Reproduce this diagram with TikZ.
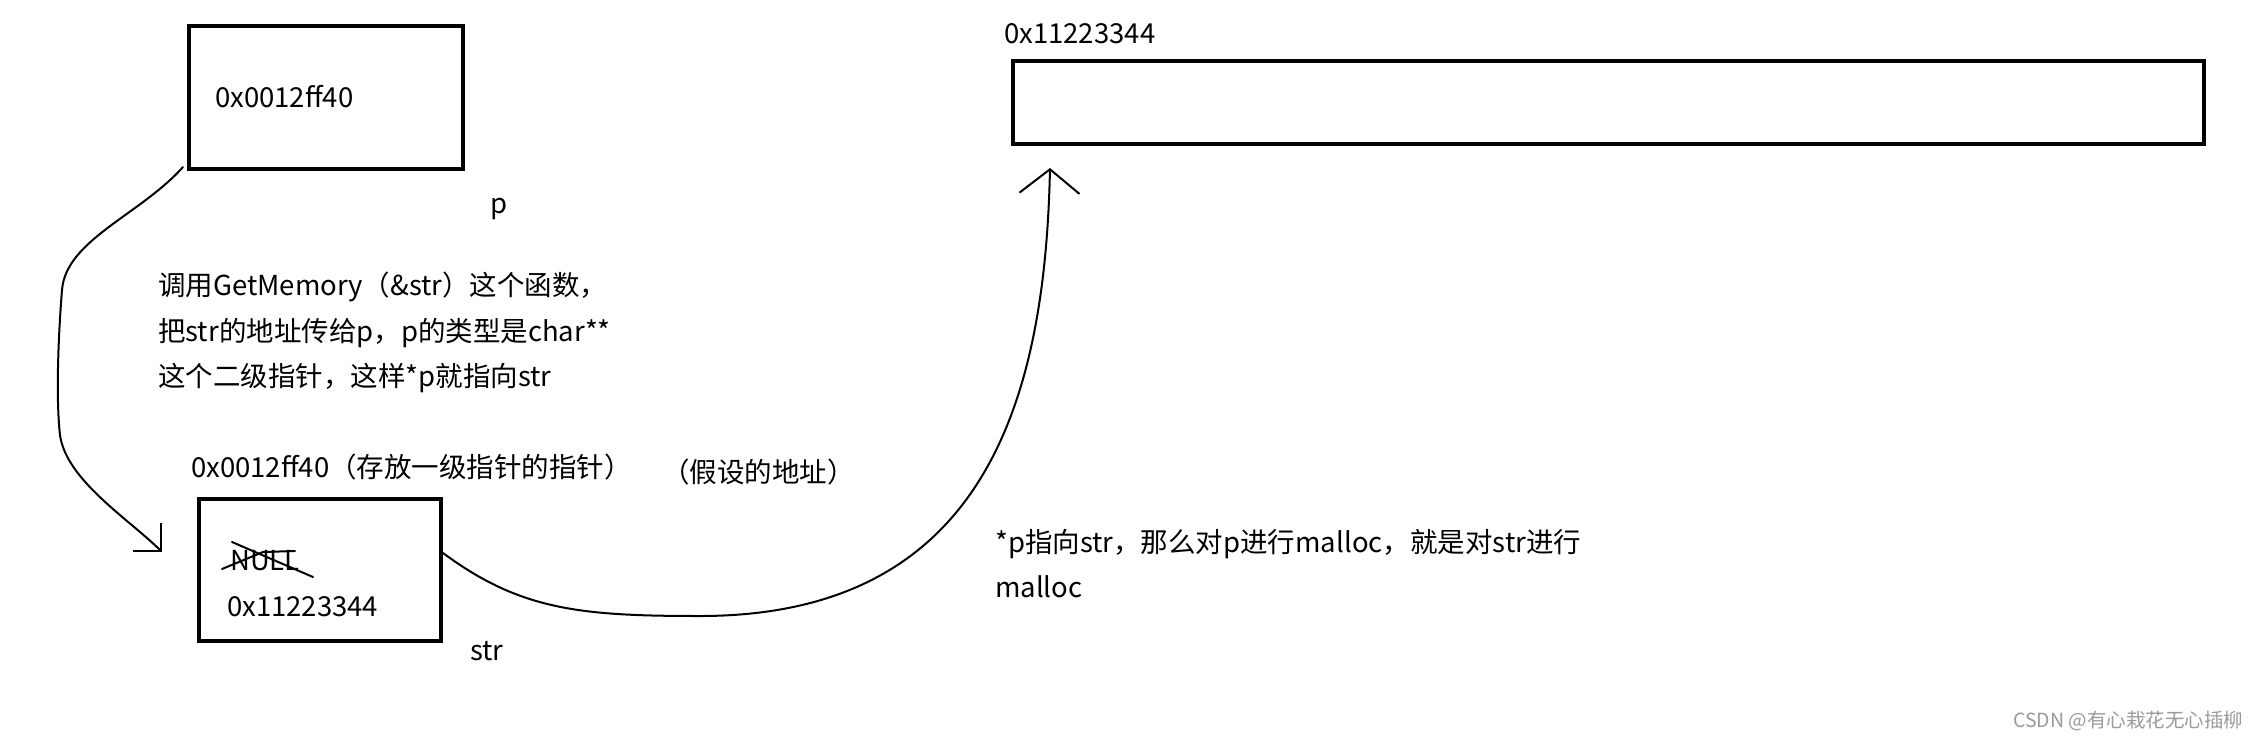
\documentclass[tikz,border=0pt]{standalone}
\usepackage{fontspec}
\setmainfont{Noto Sans CJK SC}
\usetikzlibrary{arrows.meta}
\definecolor{markGray}{HTML}{9A9A9A}

\begin{document}
\begin{tikzpicture}
[x=1pt,y=-1pt,
  memBox/.style={draw,line width=4.5pt,inner sep=0pt,outer sep=0pt},%
  textNote/.style={anchor=base west,inner sep=0pt,font=\fontsize{27.5}{45}\selectfont},%
  handLine/.style={line width=2pt,line cap=round,line join=round},%
  handArrow/.style={handLine,-{Straight Barb[length=20pt,width=40pt]}},%
  handArrowUp/.style={handLine,-{Straight Barb[length=24pt,width=60pt]}}]
\useasboundingbox (0,0) rectangle (2259,739);
%% memory boxes
\foreach \boxname/\x/\y/\w/\h in {
  pBox/326/97.5/274/143, strBox/320/570/242/142, heapBox/1608.5/102.5/1191/83}
{
  \node (\boxname) at (\x,\y) [memBox,minimum width=\w pt,minimum height=\h pt] {};
}
%% texts
\node (pVal) at (215,107) [textNote] {0x0012ff40};
\node (pName) at (490,213) [textNote] {p};
\node (callNote1) at (158,295) [textNote] {调用GetMemory（\&str）这个函数，};
\node (callNote2) at (158,341) [textNote] {把str的地址传给p，p的类型是char**};
\node (callNote3) at (158,386) [textNote] {这个二级指针，这样*p就指向str};
\node (strAddr) at (191,477) [textNote] {0x0012ff40（存放一级指针的指针）};
\node (strAddrNote) at (662,482) [textNote] {（假设的地址）};
\node (nullVal) at (230,570) [textNote] {NULL};
\node (strVal) at (227,616) [textNote] {0x11223344};
\node (strName) at (470,660) [textNote] {str};
\node (heapAddr) at (1004,43) [textNote] {0x11223344};
\node (mallocNote1) at (995,552) [textNote] {*p指向str，那么对p进行malloc，就是对str进行};
\node (mallocNote2) at (995,597) [textNote] {malloc};
\node (mark) at (2013,727) [textNote,font=\fontsize{19.5}{21}\selectfont,text=markGray] {CSDN @有心栽花无心插柳};
%% crossing out NULL
\draw[handLine] (232,542) -- (313,577);
\draw[handLine] (222,569) -- (263,552) -- (295,551);
%% arrows
\coordinate (strTip) at (162,552);
\coordinate (heapTip) at (1050,168);
\draw[handArrow] ([xshift=-6pt,yshift=2pt]pBox.south west)
  .. controls (140,215) and (66,240) .. (62,290)
  .. controls (58,340) and (56,400) .. (60,435)
  .. controls (66,480) and (130,520) .. (strTip);
\draw[handArrowUp] ([xshift=2pt,yshift=17pt]strBox.east)
  .. controls (520,610) and (580,616) .. (700,616)
  .. controls (985,616) and (1045,400) .. (heapTip);
\end{tikzpicture}
\end{document}
